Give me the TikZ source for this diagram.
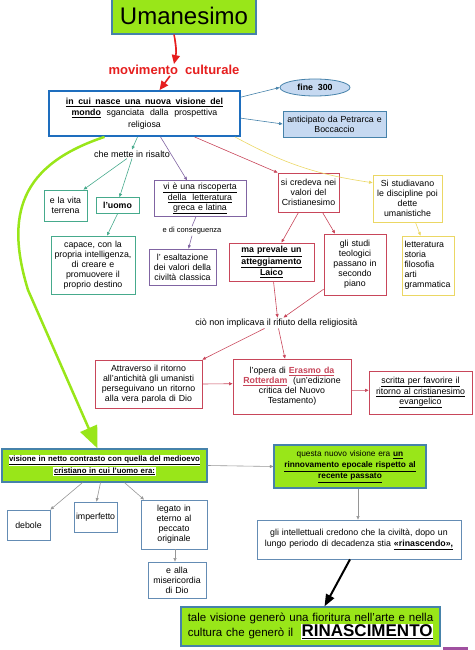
\documentclass[tikz,border=0pt]{standalone}
\usepackage{fontspec}
\setmainfont{Liberation Sans}
\usetikzlibrary{arrows.meta,shapes.geometric,calc}

\definecolor{mapLime}{RGB}{153,230,25}
\definecolor{mapSteel}{RGB}{70,130,170}
\definecolor{mapBlue}{RGB}{30,110,190}
\definecolor{mapSky}{RGB}{198,217,241}
\definecolor{mapTeal}{RGB}{70,170,140}
\definecolor{mapPurple}{RGB}{128,100,162}
\definecolor{mapCrimson}{RGB}{200,70,90}
\definecolor{mapYellow}{RGB}{235,215,100}
\definecolor{mapGray}{RGB}{150,150,150}
\definecolor{mapRed}{RGB}{230,30,30}
\definecolor{mapFrame}{RGB}{100,140,180}
\definecolor{mapViolet}{RGB}{160,80,160}

\newcommand{\hlw}[1]{{\setlength{\fboxsep}{0.6pt}\colorbox{white}{#1}}}
\newcommand{\ubf}[1]{\textbf{\underline{#1}}}
\newcommand{\widesp}{\spaceskip=4.5pt plus 1pt\relax}

\begin{document}
\begin{tikzpicture}[x=1pt,y=-1pt,
    box/.style={draw,rectangle,fill=white,align=center,inner sep=2pt,line width=0.8pt,
      font=\fontsize{8.8}{10}\selectfont},
    limebox/.style={box,fill=mapLime,draw=mapSteel,line width=1.2pt},
    mainbox/.style={box,draw=mapBlue,line width=1.8pt},
    skybox/.style={box,fill=mapSky,draw=mapSteel},
    tealbox/.style={box,draw=mapTeal},
    purplebox/.style={box,draw=mapPurple},
    redbox/.style={box,draw=mapCrimson},
    yellowbox/.style={box,draw=mapYellow},
    framebox/.style={box,draw=mapFrame},
    label/.style={inner sep=1pt,font=\fontsize{9}{10}\selectfont},
    conn/.style={-{Triangle[length=3.5pt,width=3pt]},line width=0.6pt},
    redarrow/.style={-{Triangle[length=9pt,width=8pt]},line width=1.6pt,draw=mapRed,fill=mapRed}]

\useasboundingbox (0,0) rectangle (474,650);

\node[limebox,minimum width=144pt,minimum height=37pt,font=\fontsize{24}{28}\selectfont] (uman) at (184,15.5) {Umanesimo};
\node[inner sep=1pt,text=mapRed,font=\fontsize{13}{14}\selectfont\bfseries] (movim) at (174,70) {movimento \ culturale};
\node[mainbox,text width=187pt,minimum height=45pt,font=\fontsize{8.8}{11.5}\selectfont] (mondo) at (144.5,113.5)
  {\widesp\ubf{in cui nasce una nuova visione del}\\ \ubf{mondo} sganciata dalla prospettiva\\ religiosa};
\node[ellipse,draw=mapSteel,fill=mapSky,line width=0.8pt,minimum width=70pt,minimum height=17pt,inner sep=1pt,
  font=\fontsize{8.8}{10}\selectfont\bfseries] (fine) at (315,87.5) {fine \ 300};
\node[skybox,text width=99pt,minimum height=26pt] (petrarca) at (334.5,124) {anticipato da Petrarca e\\Boccaccio};

\node[label] (risalto) at (132,154) {che mette in risalto};
\node[tealbox,text width=39pt,minimum height=31pt] (vita) at (65.5,205.5) {e la vita\\terrena};
\node[tealbox,text width=39pt,minimum height=16pt,font=\fontsize{8.8}{10}\selectfont\bfseries] (uomo) at (117.5,205.5) {l'uomo};
\node[tealbox,text width=80pt,minimum height=58pt] (capace) at (93,265)
  {capace, con la\\propria intelligenza,\\di creare e\\promuovere il\\proprio destino};

\node[purplebox,text width=88pt,minimum height=35pt] (riscop) at (200,198.5)
  {\underline{vi è una riscoperta}\\ \underline{della \ letteratura}\\ \underline{greca e latina}};
\node[label,font=\fontsize{7.5}{9}\selectfont] (conseg) at (192,231) {e di conseguenza};
\node[purplebox,text width=63pt,minimum height=36pt] (esalt) at (182.5,267) {l' esaltazione\\dei valori della\\civiltà classica};

\node[redbox,text width=57pt,minimum height=39pt] (credeva) at (308.5,192.5) {si credeva nei\\valori del\\Cristianesimo};
\node[yellowbox,text width=65pt,minimum height=47pt] (studiav) at (407.5,198.5)
  {Si studiavano\\le discipline poi\\dette\\umanistiche};
\node[redbox,text width=81pt,minimum height=38pt] (prevale) at (271.5,262) {\ubf{ma prevale un}\\ \ubf{atteggiamento}\\ \ubf{Laico}};
\node[redbox,text width=58pt,minimum height=61pt] (studi) at (355,264.5) {gli studi\\teologici\\passano in\\secondo\\piano};
\node[yellowbox,text width=48pt,minimum height=59pt,align=left] (letter) at (428.5,265.5)
  {letteratura\\storia\\filosofia\\arti\\grammatica};

\node[label] (religio) at (276.5,323) {ciò non implicava il rifiuto della religiosità};
\node[redbox,text width=103pt,minimum height=48pt] (attrav) at (148.5,384)
  {Attraverso il ritorno\\all'antichità gli umanisti\\perseguivano un ritorno\\alla vera parola di Dio};
\node[redbox,text width=114pt,minimum height=55pt] (erasmo) at (292,386.5)
  {l'opera di \textcolor{mapCrimson}{\ubf{Erasmo da}}\\ \textcolor{mapCrimson}{\ubf{Rotterdam}} \ (un'edizione\\critica del Nuovo\\Testamento)};
\node[redbox,text width=99pt,minimum height=43pt] (scritta) at (420.5,392.5)
  {\underline{scritta per favorire il}\\ \underline{ritorno al cristianesimo}\\ \underline{evangelico}};

\node[limebox,text width=201pt,minimum height=33pt,font=\fontsize{7.8}{9.5}\selectfont\bfseries] (contrasto) at (104.5,465.5)
  {\hlw{\underline{visione in netto contrasto con quella del medioevo}}\\ \hlw{\underline{cristiano in cui l'uomo era:}}};
\node[limebox,text width=148pt,minimum height=43pt,font=\fontsize{8.3}{11}\selectfont] (epocale) at (350,466.5)
  {questa nuovo visione era \ubf{un}\\ \ubf{rinnovamento epocale rispetto al}\\ \ubf{recente passato}};
\node[framebox,text width=39pt,minimum height=30pt] (debole) at (28.5,525) {debole};
\node[framebox,text width=39pt,minimum height=30pt] (imperf) at (95.5,517) {imperfetto};
\node[framebox,text width=62pt,minimum height=49pt] (legato) at (174,524.5) {legato in\\eterno al\\peccato\\originale};
\node[framebox,text width=54pt,minimum height=36pt] (miseric) at (177,580) {e alla\\misericordia\\di Dio};
\node[framebox,text width=200pt,minimum height=39pt,font=\fontsize{8.8}{11.5}\selectfont] (intell) at (359,539.5)
  {gli intellettuali credono che la civiltà, dopo un\\lungo periodo di decadenza stia \ubf{«rinascendo»,}};
\node[limebox,text width=255pt,minimum height=39pt,font=\fontsize{11.5}{15}\selectfont] (fiorit) at (310.5,626.5)
  {tale visione generò una fioritura nell'arte e nella\\cultura che generò il \ \hlw{\fontsize{17}{17}\selectfont\ubf{RINASCIMENTO}}};
\fill[mapViolet] (443,647) rectangle (468,652);

\draw[redarrow] ([xshift=-10pt]uman.south) to[bend left=12] (movim.north);
\draw[redarrow] ([xshift=-4pt]movim.south) -- ([xshift=15pt]mondo.north);

\draw[conn,mapSteel] ($(mondo.north east)!0.15!(mondo.south east)$) -- (fine.west);
\draw[conn,mapSteel] ($(mondo.north east)!0.6!(mondo.south east)$) -- (petrarca.west);

\draw[conn,mapTeal] ([xshift=-7pt]mondo.south) -- (risalto.north);
\draw[conn,mapTeal] ([xshift=-5pt]risalto.south) -- ([xshift=18pt]vita.north);
\draw[conn,mapTeal] (risalto.south) -- ([xshift=2pt]uomo.north);
\draw[conn,mapTeal] (uomo.south) -- ([xshift=14pt]capace.north);

\draw[conn,mapPurple] ([xshift=16pt]mondo.south) -- ([xshift=-13pt]riscop.north);
\draw[mapPurple,line width=0.6pt] ([xshift=-4pt]riscop.south) -- (conseg.north);
\draw[conn,mapPurple] (conseg.south) -- ([xshift=6pt]esalt.north);

\draw[conn,mapCrimson] ([xshift=50pt]mondo.south) -- (credeva.north west);
\draw[conn,mapYellow] ([xshift=-6pt]mondo.south east) to[bend right=10] ($(studiav.north west)!0.17!(studiav.south west)$);
\draw[conn,mapYellow] ([xshift=8pt]studiav.south) -- ([xshift=-8pt]letter.north);
\draw[conn,mapCrimson] ([xshift=-10pt]credeva.south) -- ([xshift=10pt]prevale.north);
\draw[conn,mapCrimson] ([xshift=14pt]credeva.south) -- ([xshift=-20pt]studi.north);
\draw[conn,mapCrimson] ([xshift=2pt]prevale.south) -- ([xshift=1pt]religio.north);
\draw[conn,mapCrimson] ($(studi.north west)!0.9!(studi.south west)$) -- ([xshift=7pt]religio.north);
\draw[conn,mapCrimson] ([xshift=-12pt]religio.south) -- (attrav.north east);
\draw[conn,mapCrimson] ([xshift=2pt]religio.south) -- ([xshift=-7pt]erasmo.north);
\draw[conn,mapCrimson] (attrav.east) -- ($(erasmo.north west)!0.45!(erasmo.south west)$);
\draw[conn,mapCrimson] ($(erasmo.north east)!0.57!(erasmo.south east)$) -- ($(scritta.north west)!0.45!(scritta.south west)$);

\draw[-{Triangle[length=22pt,width=18pt]},line width=2.5pt,mapLime]
  ([xshift=-40pt]mondo.south) .. controls (20,165) and (5,215) .. (28,290) -- ([xshift=-7pt]contrasto.north);

\draw[conn,mapGray] (contrasto.east) -- (epocale.west);
\draw[conn,mapGray] ([xshift=-22pt]contrasto.south) -- (debole.north east);
\draw[conn,mapGray] ([xshift=-4pt]contrasto.south) -- ([xshift=1pt]imperf.north);
\draw[conn,mapGray] ([xshift=20pt]contrasto.south) -- ([xshift=-30pt]legato.north);
\draw[conn,mapGray] ([xshift=1pt]legato.south) -- ([xshift=-2pt]miseric.north);
\draw[conn,mapGray] ([xshift=8pt]epocale.south) -- ([xshift=-1pt]intell.north);
\draw[-{Triangle[length=12pt,width=9pt]},line width=2pt,black] ([xshift=-9pt]intell.south) -- ([xshift=14pt]fiorit.north);
\end{tikzpicture}
\end{document}
